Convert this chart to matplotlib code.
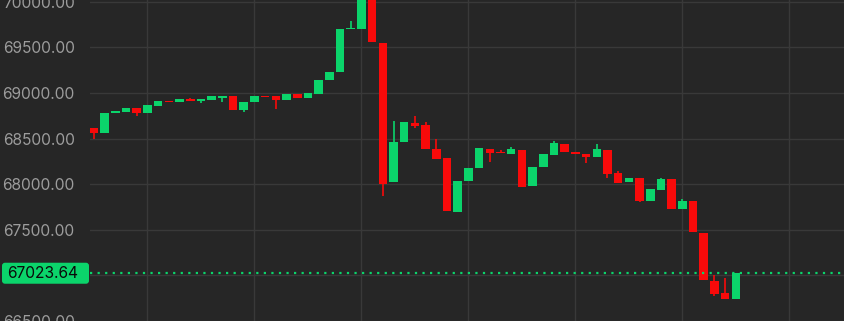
import numpy as np
import matplotlib
matplotlib.use('Agg')
import matplotlib.pyplot as plt
import matplotlib.transforms as mtransforms
from matplotlib.patches import FancyBboxPatch

# candle data (one candle per period)
opens = [68620, 68565, 68783, 68790, 68834, 68783, 68855, 68917, 68900, 68935,
         68913, 68920, 68950, 68967, 68815, 68900, 68967, 68964, 68927, 68989,
         68942, 68989, 69141, 69232, 69696, 69703, 70060, 69543, 68025, 68464,
         68674, 68645, 68384, 68283, 67696, 68036, 68174, 68391, 68355, 68330,
         68380, 67975, 68192, 68318, 68435, 68355, 68326, 68293, 68380, 68120,
         68022, 68065, 67818, 67938, 68054, 67731, 67812, 67467, 66942, 66804,
         66739]
highs = [68620, 68783, 68800, 68834, 68834, 68870, 68913, 68917, 68935, 68946,
         68935, 68964, 68967, 68967, 68900, 68967, 68967, 68964, 68989, 68989,
         68997, 69141, 69232, 69696, 69786, 70060, 70060, 69543, 68692, 68681,
         68747, 68681, 68500, 68283, 68036, 68174, 68399, 68391, 68380, 68410,
         68380, 68192, 68326, 68471, 68435, 68355, 68326, 68435, 68380, 68145,
         68073, 68065, 67946, 68065, 68054, 67837, 67812, 67467, 67008, 66967,
         67030]
lows = [68500, 68565, 68783, 68790, 68747, 68783, 68855, 68900, 68900, 68913,
        68890, 68920, 68905, 68818, 68790, 68900, 68953, 68826, 68927, 68946,
        68942, 68989, 69141, 69232, 69696, 69703, 69558, 67866, 68025, 68464,
        68620, 68384, 68275, 67703, 67696, 68036, 68174, 68239, 68337, 68330,
        67971, 67975, 68192, 68318, 68348, 68326, 68228, 68293, 68073, 68018,
        68022, 67804, 67818, 67938, 67731, 67731, 67475, 66949, 66779, 66742,
        66739]
closes = [68562, 68783, 68800, 68834, 68780, 68870, 68913, 68900, 68935, 68913,
          68935, 68964, 68967, 68818, 68900, 68967, 68953, 68927, 68989, 68946,
          68997, 69141, 69232, 69696, 69710, 70060, 69558, 68007, 68457, 68681,
          68638, 68384, 68275, 67703, 68036, 68174, 68399, 68344, 68337, 68391,
          67971, 68192, 68326, 68446, 68348, 68326, 68293, 68384, 68109, 68018,
          68073, 67818, 67946, 68054, 67731, 67812, 67475, 66949, 66797, 66742,
          67023.64]
last_price = 67023.64
price_ticks = [66500, 67000, 67500, 68000, 68500, 69000, 69500, 70000]

BG = '#262626'
GREEN = '#0bd46b'
RED = '#f80a0a'
GRID = '#393939'
LABEL = '#9c9c9c'
FS = 11.2

plt.rcParams['font.family'] = ['Inter', 'DejaVu Sans']

fig = plt.figure(figsize=(8.45, 3.21), dpi=100, facecolor=BG)
ax = fig.add_axes([90 / 845, 0, 755 / 845, 1])
ax.set_facecolor(BG)

o = np.array(opens, dtype=float)
h = np.array(highs, dtype=float)
l = np.array(lows, dtype=float)
c = np.array(closes, dtype=float)
x = np.arange(len(o))
up = c >= o
cols = np.where(up, GREEN, RED)

bottoms = np.minimum(o, c)
heights = np.maximum(np.abs(c - o), 14)
ax.vlines(x, l, h, colors=cols, linewidth=1.2, zorder=2)
ax.bar(x, heights, bottom=bottoms, width=0.8, color=cols, linewidth=0, zorder=3)

ax.set_xlim(-0.37, 70.2)
ax.set_ylim(66525, 70019)

ax.set_xticks(np.arange(5, 70, 10))
ax.set_yticks(price_ticks)
# the 67000 label sits under the price tag, so leave it blank
ax.set_yticklabels(['' if p == 67000 else '%.2f' % p for p in price_ticks])
ax.tick_params(axis='y', length=0, pad=11, labelsize=FS, labelcolor=LABEL)
ax.tick_params(axis='x', length=0, labelbottom=False)
ax.grid(True, color=GRID, linewidth=1)
ax.set_axisbelow(True)
for s in ax.spines.values():
    s.set_visible(False)

# last price line
ax.axhline(last_price, color=GREEN, linewidth=1.6, linestyle=(0, (1, 2.4)),
           zorder=5)

# price tag, placed in pixels at the height of the last price
y_px = ax.transData.transform((0, last_price))[1]
px = mtransforms.IdentityTransform()
tag = FancyBboxPatch((2, y_px - 10.5), 87, 21,
                     boxstyle='round,pad=0,rounding_size=3',
                     fc=GREEN, ec='none', transform=px, zorder=6)
fig.add_artist(tag)
fig.text(78.5, y_px, '%.2f' % last_price, transform=px, ha='right',
         va='center', fontsize=FS, color='#0a0a0a', zorder=7)

fig.savefig('out.png', dpi=100, facecolor=BG)
